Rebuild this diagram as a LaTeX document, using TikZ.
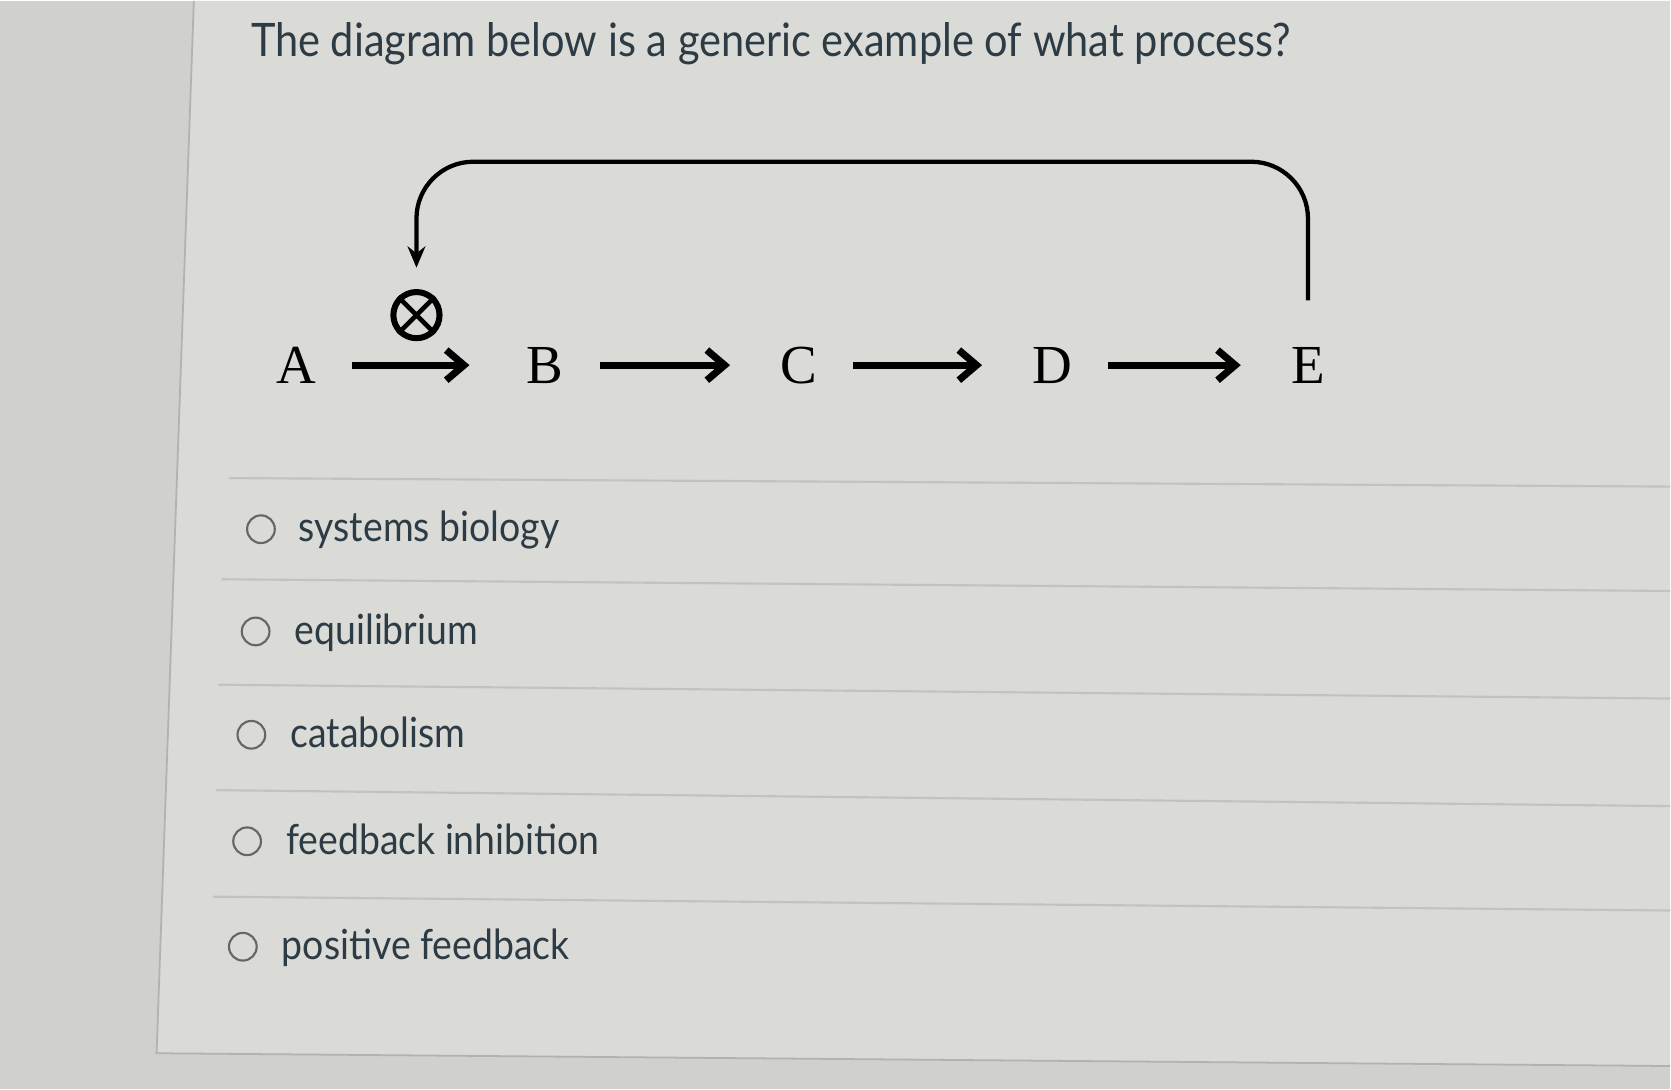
\documentclass[tikz,border=0pt]{standalone}
\usepackage{fontspec}
\setmainfont{Liberation Serif}
\newfontfamily\latofont{Lato}[FakeStretch=0.9]
\usetikzlibrary{positioning,arrows.meta}
\definecolor{page}{HTML}{DADAD7}
\definecolor{desk}{HTML}{D0D0CD}
\definecolor{ink}{HTML}{2D3B45}
\definecolor{rule}{HTML}{C2C2BF}

\begin{document}
\begin{tikzpicture}[x=0.3pt, y=-0.3pt,
    letter/.style={font=\fontsize{15.5}{16}\selectfont, inner sep=0pt},
    flow/.style={line width=2pt, -{Straight Barb[length=5pt,width=8.5pt,line width=2pt]}, shorten <=10pt, shorten >=14pt},
    radio/.style={circle, draw=black!60, line width=0.6pt, minimum size=7.8pt, inner sep=0pt},
    answer/.style={font=\latofont\fontsize{11.7}{12}\selectfont, text=ink, anchor=base west, inner sep=0pt}]
    % paper and page border
    \fill[desk] (0,0) rectangle (1568,1022);
    \fill[page] (182,0) -- (1568,0) -- (1568,1000) -- (147,988) -- cycle;
    \draw[black!30, line width=0.5pt] (182,0) -- (147,988) -- (1568,1000);
    \useasboundingbox (0,0) rectangle (1568,1022);
    % rules between answers
    \draw[rule, line width=0.6pt] (215,448) -- (1568,456);
    \draw[rule, line width=0.6pt] (208,543) -- (1568,554);
    \draw[rule, line width=0.6pt] (205,642) -- (1568,655);
    \draw[rule, line width=0.6pt] (203,741) -- (1568,756);
    \draw[rule, line width=0.6pt] (200,841) -- (1568,854);
    % question
    \node[font=\latofont\fontsize{13}{14}\selectfont, text=ink, anchor=base west, inner sep=0pt] (q) at (235,52) {The diagram below is a generic example of what process?};
    % pathway
    \node[letter] (a) at (278,342) {A};
    \node[letter] (b) at (512,342) {B};
    \node[letter] (c) at (750,342) {C};
    \node[letter] (d) at (988,342) {D};
    \node[letter] (e) at (1228,342) {E};
    \draw[flow, shorten >=16pt] (a.east) -- (b.west);
    \draw[flow] (b.east) -- (c.west);
    \draw[flow] (c.east) -- (d.west);
    \draw[flow] (d.east) -- (e.west);
    % inhibition mark and feedback loop
    \node[circle, draw, line width=1.7pt, minimum size=13pt, inner sep=0pt] (inh) at (391,295) {};
    \draw[line width=1.3pt] (inh.45) -- (inh.225) (inh.135) -- (inh.315);
    \draw[line width=1.2pt, rounded corners=16pt, shorten <=13pt, shorten >=6pt, -{Stealth[length=6pt,width=5pt]}]
        (e.north) -- (e.north |- 0,151) -| (inh.north);
    % answers
    \node[radio] (r1) at (245,496) {};
    \node[radio] (r2) at (240,592) {};
    \node[radio] (r3) at (236,689) {};
    \node[radio] (r4) at (232,789) {};
    \node[radio] (r5) at (228,888) {};
    \node[answer] (o1) at (280,508) {systems biology};
    \node[answer] (o2) at (276,604) {equilibrium};
    \node[answer] (o3) at (272,701) {catabolism};
    \node[answer] (o4) at (268,801) {feedback inhibition};
    \node[answer] (o5) at (264,900) {positive feedback};
\end{tikzpicture}
\end{document}
